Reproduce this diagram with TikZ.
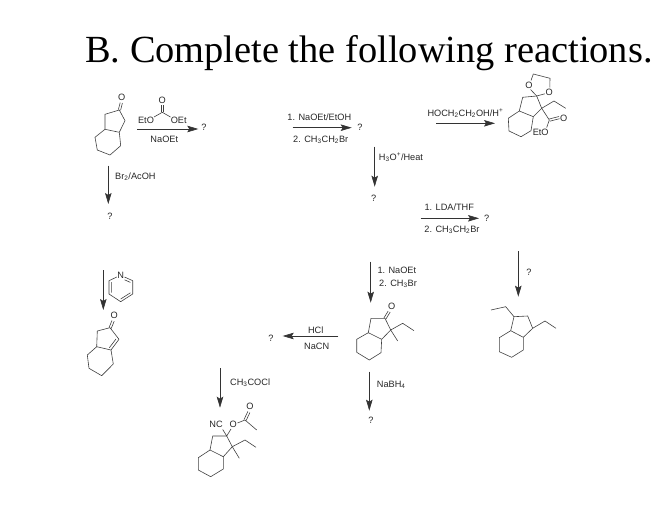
\documentclass[tikz,border=0pt]{standalone}
\usepackage{fontspec}
\setmainfont{Liberation Sans}
\newfontfamily\titlefont{Liberation Serif}
\usetikzlibrary{arrows.meta}
\tikzset{
	bond/.style={line width=0.6pt, draw=black!75, line join=round},
	rxn/.style={line width=0.6pt, draw=black!80, -{Stealth[length=11pt, width=6.5pt, inset=2pt]}},
	lbl/.style={inner sep=0pt, text=black!85, font=\fontsize{9.2}{11}\selectfont},
	atom/.style={inner sep=0pt, text=black!85, font=\fontsize{9.2}{11}\selectfont},
}
\begin{document}
\begin{tikzpicture}[x=1pt, y=-1pt]
	\useasboundingbox (0, 0) rectangle (657, 514);
	\node[anchor=base west, inner sep=0pt, font=\titlefont\fontsize{38.4}{41}\selectfont] (title) at (85, 62) {B. Complete the following reactions.};

	% first ketone and its two arrows
	\node[atom] (oa) at (121.7, 97.3) {O};
	\draw[bond] (105, 114.3) -- (119.3, 110) -- (125, 120.7) -- (119.3, 132.3) -- (105, 129.3) -- cycle;
	\draw[bond] (105, 129.3) -- (95, 137.3) -- (97.3, 150) -- (110, 155) -- (120.7, 145.7) -- (119.3, 132.3);
	\draw[bond] (118.4, 109.6) -- (120.2, 102.5) (120.6, 110.3) -- (122.4, 103);
	\node[atom] (oc) at (162.3, 100) {O};
	\node[atom] (eto) at (146, 120) {EtO};
	\node[atom] (oet) at (178.7, 120) {OEt};
	\draw[bond] (161.2, 112.3) -- (161.2, 105) (163.4, 112.3) -- (163.4, 105);
	\draw[bond] (154, 117) -- (162.3, 112.3) -- (170.5, 117);
	\coordinate (a1) at (137.3, 129);
	\coordinate (a2) at (198.3, 129);
	\draw[rxn] (a1) -- (a2);
	\node[lbl] (qa) at (204, 127.7) {?};
	\node[lbl] (naoet) at (164.3, 139) {NaOEt};
	\coordinate (b1) at (108.3, 165.7);
	\coordinate (b2) at (108.3, 204);
	\draw[rxn] (b1) -- (b2);
	\node[lbl, anchor=west] (brtwo) at (115, 176.7) {Br\textsubscript{2}/AcOH};
	\node[lbl] (qb) at (110, 216.7) {?};

	% alkylation, hydrolysis
	\node[lbl] (naetoh) at (319.3, 117.7) {1. NaOEt/EtOH};
	\node[lbl] (etbra) at (320.7, 140) {2. CH\textsubscript{3}CH\textsubscript{2}Br};
	\coordinate (c1) at (292.7, 127.7);
	\coordinate (c2) at (351.7, 127.7);
	\draw[rxn] (c1) -- (c2);
	\node[lbl] (qc) at (360, 127.3) {?};
	\coordinate (d1) at (374.7, 146.7);
	\coordinate (d2) at (374.7, 186.7);
	\draw[rxn] (d1) -- (d2);
	\node[lbl, anchor=west] (hthree) at (378.7, 157.3) {H\textsubscript{3}O\textsuperscript{+}/Heat};
	\node[lbl] (qd) at (373.7, 198.3) {?};

	% ketal
	\node[lbl, anchor=west] (glycol) at (427.3, 113.3) {HOCH\textsubscript{2}CH\textsubscript{2}OH/H\textsuperscript{+}};
	\coordinate (e1) at (436, 123.3);
	\coordinate (e2) at (495, 123.3);
	\draw[rxn] (e1) -- (e2);
	\node[atom] (ol) at (529, 85) {O};
	\node[atom] (or) at (549.3, 92.3) {O};
	\node[atom] (oe) at (563.8, 118.3) {O};
	\node[atom] (etob) at (540.7, 132.7) {EtO};
	\draw[bond] (531, 80.5) -- (533.3, 74) -- (550, 78.3) -- (549.8, 87.5);
	\draw[bond] (530.5, 89.5) -- (536.7, 96) -- (544.8, 93.8);
	\draw[bond] (522.7, 97.3) -- (536.7, 96) -- (541.7, 108.3) -- (533.3, 116.7) -- (519.3, 111) -- cycle;
	\draw[bond] (519.3, 111) -- (508.3, 118.3) -- (509, 131) -- (521, 136.7) -- (531, 130.7) -- (533.3, 116.7);
	\draw[bond] (541.7, 108.3) -- (554, 101) -- (565.7, 108.3);
	\draw[bond] (541.7, 108.3) -- (549.3, 120) -- (546.7, 127.5);
	\draw[bond] (549.3, 119) -- (559, 116.5) (549.8, 121.2) -- (559.5, 118.7);

	% LDA
	\node[lbl] (lda) at (449.3, 207.3) {1. LDA/THF};
	\node[lbl] (etbrb) at (452, 230) {2. CH\textsubscript{3}CH\textsubscript{2}Br};
	\coordinate (f1) at (420.7, 218.3);
	\coordinate (f2) at (479, 218.3);
	\draw[rxn] (f1) -- (f2);
	\node[lbl] (qf) at (486.7, 218.3) {?};

	% diethyl product
	\coordinate (g1) at (518.3, 251);
	\coordinate (g2) at (518.3, 296.7);
	\draw[rxn] (g1) -- (g2);
	\node[lbl] (qg) at (529, 272.3) {?};
	\draw[bond] (491, 310) -- (505.7, 306.7) -- (514, 316.7) -- (527.7, 316) -- (532.7, 328.3) -- (545, 321) -- (556, 328.3);
	\draw[bond] (514, 316.7) -- (510.7, 330.7) -- (523.3, 337.3) -- (532.7, 328.3);
	\draw[bond] (510.7, 330.7) -- (499.3, 337.7) -- (499.3, 351.7) -- (511.7, 357.3) -- (523.3, 350) -- (523.3, 337.3);

	% pyridine step
	\coordinate (h1) at (103.3, 270);
	\coordinate (h2) at (103.3, 310);
	\draw[rxn] (h1) -- (h2);
	\node[atom] (npy) at (120.7, 275) {N};
	\draw[bond] (124.5, 277) -- (132.7, 280.7) -- (132.7, 294) -- (120.7, 301.7) -- (109, 294) -- (109, 280.7) -- (116.8, 277);
	\draw[bond] (124.5, 279.8) -- (130.4, 282.4) (130.4, 292.8) -- (120.7, 299) (111.3, 292.5) -- (111.3, 282.2);

	% enone
	\node[atom] (oen) at (114.3, 315.7) {O};
	\draw[bond] (109, 327.7) -- (112, 320.5) (111.2, 328.5) -- (114.2, 321.2);
	\draw[bond] (110, 327.7) -- (97.3, 331) -- (96.7, 346.7) -- (111, 350) -- (119, 339.3) -- cycle;
	\draw[bond] (109.3, 347.8) -- (116, 339);
	\draw[bond] (96.7, 346.7) -- (87.3, 355) -- (89, 368.3) -- (101.7, 375.7) -- (113.3, 364) -- (111, 350);

	% central ketone
	\coordinate (i1) at (370.7, 261.7);
	\coordinate (i2) at (370.7, 302.7);
	\draw[rxn] (i1) -- (i2);
	\node[lbl, anchor=west] (naoetb) at (377.3, 270.7) {1. NaOEt};
	\node[lbl, anchor=west] (mebr) at (379, 284) {2. CH\textsubscript{3}Br};
	\node[atom] (ok) at (391.7, 306.7) {O};
	\draw[bond] (384, 317.8) -- (388.2, 311) (386, 318.9) -- (390.2, 312);
	\draw[bond] (385, 318.3) -- (371, 318.3) -- (368.3, 332.7) -- (381.7, 339.3) -- (390.7, 330) -- cycle;
	\draw[bond] (368.3, 332.7) -- (356.7, 339.3) -- (356.7, 352.3) -- (369.3, 360) -- (381, 352.7) -- (381.7, 339.3);
	\draw[bond] (390.7, 330) -- (402.7, 323.3) -- (414, 330.7);
	\draw[bond] (390.7, 330) -- (397.7, 341);

	% cyanohydrin and reduction
	\coordinate (j1) at (338.3, 336);
	\coordinate (j2) at (282.7, 336);
	\draw[rxn] (j1) -- (j2);
	\node[lbl] (hcl) at (315.7, 330) {HCl};
	\node[lbl] (nacn) at (316.7, 346) {NaCN};
	\node[lbl] (qj) at (271, 338.3) {?};
	\coordinate (k1) at (369.3, 371.7);
	\coordinate (k2) at (369.3, 410.7);
	\draw[rxn] (k1) -- (k2);
	\node[lbl, anchor=west] (nabh) at (376.7, 385) {NaBH\textsubscript{4}};
	\node[lbl] (qk) at (371, 420) {?};

	% acetate
	\coordinate (l1) at (220, 368.3);
	\coordinate (l2) at (220, 407.7);
	\draw[rxn] (l1) -- (l2);
	\node[lbl, anchor=west] (accl) at (230, 382.7) {CH\textsubscript{3}COCl};
	\node[atom] (nc) at (216, 424.7) {NC};
	\node[atom] (oac) at (233.3, 424.7) {O};
	\node[atom] (oco) at (250, 406.7) {O};
	\draw[bond] (222.7, 429.5) -- (226.7, 436) -- (231, 429);
	\draw[bond] (226.7, 436) -- (212.7, 436) -- (210, 450) -- (223.3, 456.7) -- (232.3, 446.7) -- cycle;
	\draw[bond] (210, 450) -- (198.3, 457.7) -- (198.3, 470) -- (210.7, 476.7) -- (223.3, 469) -- (223.3, 456.7);
	\draw[bond] (232.3, 446.7) -- (245, 440) -- (256, 447.3);
	\draw[bond] (232.3, 446.7) -- (239.3, 458.3);
	\draw[bond] (237.5, 423) -- (245, 420) -- (256.7, 430);
	\draw[bond] (244, 419.6) -- (247.8, 411.5) (246.1, 420.6) -- (249.9, 412.5);
\end{tikzpicture}
\end{document}
